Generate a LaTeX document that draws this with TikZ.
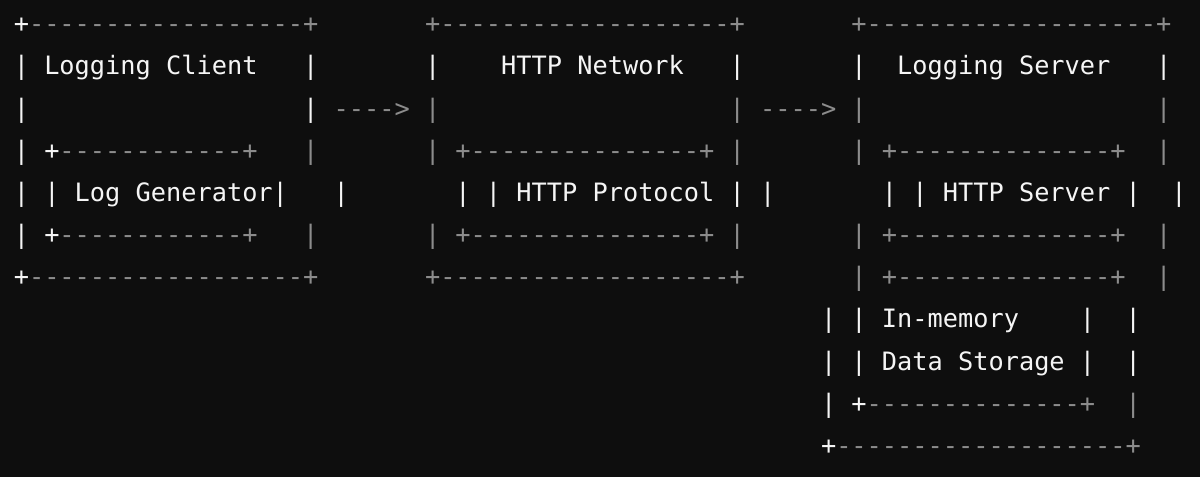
\documentclass[tikz,border=0pt]{standalone}
\usepackage{fontspec}
\setmonofont{DejaVu Sans Mono}
\definecolor{bgdark}{HTML}{0E0E0E}
\definecolor{lit}{HTML}{F5F5F5}
\definecolor{dim}{HTML}{8C8C8C}
\begin{document}
\begin{tikzpicture}[x=7.615pt,y=-21.084pt,
	ascii/.style={anchor=base west,inner sep=0pt,font=\ttfamily\fontsize{12.65pt}{12.65pt}\selectfont},
	bright/.style={ascii,text=lit},
	faint/.style={ascii,text=dim}]
	\fill[bgdark] (-0.88,0.222) rectangle (77.91,11.534);
	% row 1: top edges
	\node[bright] (top-a) at (0,1) {+};
	\foreach \c/\t [count=\k] in {1/------------------+,27/+-------------------+,55/+-------------------+}
	\node[faint] (top-\k) at (\c,1) {\t};
	% row 2: titles
	\foreach \c/\t [count=\k] in {0/|,2/Logging Client,19/|,27/|,32/HTTP Network,47/|,55/|,58/Logging Server,75/|}
	\node[bright] (title-\k) at (\c,2) {\t};
	% row 3: arrows
	\foreach \c [count=\k] in {0,19}
	\node[bright] (side-\k) at (\c,3) {|};
	\foreach \c/\t [count=\k] in {21/---->,27/|,47/|,49/---->,55/|,75/|}
	\node[faint] (arrow-\k) at (\c,3) {\t};
	% rows 4 and 6: inner edges
	\foreach \r in {4,6}{
		\node[bright] (edge\r-a) at (0,\r) {|};
		\node[bright] (edge\r-b) at (2,\r) {+};
		\foreach \c/\t [count=\k] in {3/------------+,19/|,27/|,29/+---------------+,47/|,55/|,57/+--------------+,75/|}
		\node[faint] (edge\r-\k) at (\c,\r) {\t};
	}
	% row 5: inner boxes
	\foreach \c/\t [count=\k] in {0/|,2/|,4/Log Generator,17/|,21/|,29/|,31/|,33/HTTP Protocol,47/|,49/|,57/|,59/|,61/HTTP Server,73/|,76/|}
	\node[bright] (inner-\k) at (\c,5) {\t};
	% row 7: bottom edges
	\node[bright] (bot-a) at (0,7) {+};
	\foreach \c/\t [count=\k] in {1/------------------+,27/+-------------------+,55/|,57/+--------------+,75/|}
	\node[faint] (bot-\k) at (\c,7) {\t};
	% rows 8 and 9: storage
	\foreach \c/\t [count=\k] in {53/|,55/|,57/In-memory,70/|,73/|}
	\node[bright] (mem-\k) at (\c,8) {\t};
	\foreach \c/\t [count=\k] in {53/|,55/|,57/Data Storage,70/|,73/|}
	\node[bright] (store-\k) at (\c,9) {\t};
	% rows 10 and 11: storage edges
	\node[bright] (sedge-a) at (53,10) {|};
	\node[bright] (sedge-b) at (55,10) {+};
	\node[faint] (sedge-1) at (56,10) {--------------+};
	\node[faint] (sedge-2) at (73,10) {|};
	\node[bright] (sbot-a) at (53,11) {+};
	\node[faint] (sbot-1) at (54,11) {-------------------+};
\end{tikzpicture}
\end{document}
